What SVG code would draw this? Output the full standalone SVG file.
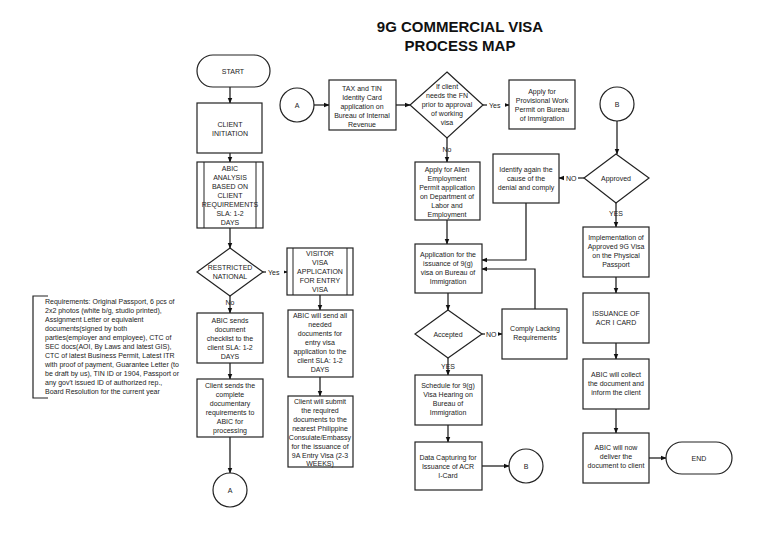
<svg xmlns="http://www.w3.org/2000/svg" width="768" height="543" viewBox="0 0 768 543">
<defs>
<marker id="ah" viewBox="0 0 10 10" refX="9" refY="5" markerWidth="5" markerHeight="5" orient="auto"><path d="M0,1 L10,5 L0,9 z" fill="#111"/></marker>
<style>
.b{fill:#fff;stroke:#222;stroke-width:1.2}
.t{font-family:"Liberation Sans",Arial,sans-serif;font-size:7px;fill:#222;text-anchor:middle}
.l{font-family:"Liberation Sans",Arial,sans-serif;font-size:7px;fill:#222}
.c line,.c path{stroke:#111;stroke-width:1.2;fill:none;marker-end:url(#ah)}
.h{font-family:"Liberation Sans",Arial,sans-serif;font-size:15px;font-weight:bold;fill:#111;text-anchor:middle}
</style>
</defs>
<rect width="768" height="543" fill="#fff"/>
<text class="h" x="460" y="32">9G COMMERCIAL VISA</text>
<text class="h" x="460" y="51">PROCESS MAP</text>

<g class="c">
<line x1="230" y1="87" x2="230" y2="103"/>
<line x1="230" y1="153" x2="230" y2="162"/>
<line x1="230" y1="228" x2="230" y2="248"/>
<line x1="263" y1="272" x2="287" y2="272"/>
<line x1="230" y1="296" x2="230" y2="313"/>
<line x1="230" y1="363" x2="230" y2="379"/>
<line x1="230" y1="437" x2="230" y2="473"/>
<line x1="320" y1="295" x2="320" y2="310"/>
<line x1="320" y1="377" x2="320" y2="396"/>
<line x1="314" y1="105" x2="329" y2="105"/>
<line x1="396" y1="105" x2="410" y2="105"/>
<line x1="483" y1="105" x2="509" y2="105"/>
<line x1="447" y1="138" x2="447" y2="162"/>
<line x1="447" y1="220" x2="447" y2="244"/>
<path d="M526,203 V260 H482"/>
<path d="M535,309 V269 H482"/>
<line x1="448" y1="293" x2="448" y2="310"/>
<line x1="482" y1="334" x2="502" y2="334"/>
<line x1="448" y1="358" x2="448" y2="375"/>
<line x1="448" y1="425" x2="448" y2="442"/>
<line x1="482" y1="466" x2="509" y2="466"/>
<line x1="617" y1="121" x2="617" y2="154"/>
<line x1="584" y1="178" x2="559" y2="178"/>
<line x1="616" y1="203" x2="616" y2="227"/>
<line x1="616" y1="277" x2="616" y2="293"/>
<line x1="616" y1="343" x2="616" y2="359"/>
<line x1="616" y1="409" x2="616" y2="433"/>
<line x1="649" y1="458" x2="666" y2="458"/>
</g>
<g id="labels">
<rect x="266" y="268" width="18" height="8" fill="#fff"/><text class="l" x="268" y="274.5">Yes</text>
<text class="t" x="230" y="305">No</text>
<rect x="487" y="101" width="18" height="8" fill="#fff"/><text class="l" x="489" y="107.5">Yes</text>
<text class="t" x="447" y="152">No</text>
<rect x="564" y="174" width="14" height="8" fill="#fff"/><text class="l" x="566" y="180.5">NO</text>
<rect x="485" y="330" width="13" height="8" fill="#fff"/><text class="l" x="486" y="336.5">NO</text>
<text class="t" x="448" y="369">YES</text>
<text class="t" x="616" y="216">YES</text>
</g>

<g id="start"><rect class="b" x="197" y="55" width="73" height="32" rx="16"/><text class="t" x="233" y="73.5">START</text></g>
<g id="init"><rect class="b" x="197" y="103" width="65" height="50"/><text class="t" x="230" y="127">CLIENT</text><text class="t" x="230" y="136">INITIATION</text></g>
<g id="analysis"><rect class="b" x="197" y="162" width="66" height="66"/><line x1="204" y1="162" x2="204" y2="228" stroke="#222"/><line x1="256" y1="162" x2="256" y2="228" stroke="#222"/>
<text class="t" x="230" y="171">ABIC</text><text class="t" x="230" y="180">ANALYSIS</text><text class="t" x="230" y="189">BASED ON</text><text class="t" x="230" y="198">CLIENT</text><text class="t" x="230" y="207">REQUIREMENTS</text><text class="t" x="230" y="216">SLA: 1-2</text><text class="t" x="230" y="225">DAYS</text></g>
<g id="restricted"><path class="b" d="M230,248 L263,272 L230,296 L197,272 Z"/><text class="t" x="230" y="270">RESTRICTED</text><text class="t" x="230" y="279">NATIONAL</text></g>
<g id="visitor"><rect class="b" x="287" y="248" width="66" height="47"/><line x1="293" y1="248" x2="293" y2="295" stroke="#222"/><line x1="347" y1="248" x2="347" y2="295" stroke="#222"/>
<text class="t" x="320" y="256">VISITOR</text><text class="t" x="320" y="265">VISA</text><text class="t" x="320" y="274">APPLICATION</text><text class="t" x="320" y="283">FOR ENTRY</text><text class="t" x="320" y="292">VISA</text></g>
<g id="abicsends"><rect class="b" x="197" y="313" width="66" height="50"/><text class="t" x="230" y="323">ABIC sends</text><text class="t" x="230" y="332">document</text><text class="t" x="230" y="341">checklist to the</text><text class="t" x="230" y="350">client SLA: 1-2</text><text class="t" x="230" y="359">DAYS</text></g>
<g id="clientsends"><rect class="b" x="197" y="379" width="66" height="58"/><text class="t" x="230" y="388">Client sends the</text><text class="t" x="230" y="397">complete</text><text class="t" x="230" y="406">documentary</text><text class="t" x="230" y="415">requirements to</text><text class="t" x="230" y="424">ABIC for</text><text class="t" x="230" y="433">processing</text></g>
<g id="a1"><circle class="b" cx="230" cy="490" r="17"/><text class="t" x="230" y="492.5">A</text></g>
<g id="abicsendall"><rect class="b" x="288" y="310" width="65" height="67"/><text class="t" x="320" y="318">ABIC will send all</text><text class="t" x="320" y="327">needed</text><text class="t" x="320" y="336">documents for</text><text class="t" x="320" y="345">entry visa</text><text class="t" x="320" y="354">application to the</text><text class="t" x="320" y="363">client SLA: 1-2</text><text class="t" x="320" y="372">DAYS</text></g>
<g id="submit"><rect class="b" x="288" y="396" width="65" height="71"/><text class="t" x="320" y="404">Client will submit</text><text class="t" x="320" y="413">the required</text><text class="t" x="320" y="422">documents to the</text><text class="t" x="320" y="431">nearest Philippine</text><text class="t" x="320" y="440">Consulate/Embassy</text><text class="t" x="320" y="449">for the issuance of</text><text class="t" x="320" y="458">9A Entry Visa (2-3</text><text class="t" x="320" y="466">WEEKS)</text></g>
<g id="req"><path d="M48,296 H33 V398 H48" fill="none" stroke="#222" stroke-width="1.2"/>
<text class="l" x="45" y="304">Requirements: Original Passport, 6 pcs of</text>
<text class="l" x="45" y="313">2x2 photos (white b/g, studio printed),</text>
<text class="l" x="45" y="322">Assignment Letter or equivalent</text>
<text class="l" x="45" y="331">documents(signed by both</text>
<text class="l" x="45" y="340">parties(employer and employee), CTC of</text>
<text class="l" x="45" y="349">SEC docs(AOI, By Laws and latest GIS),</text>
<text class="l" x="45" y="358">CTC of latest Business Permit, Latest ITR</text>
<text class="l" x="45" y="367">with proof of payment, Guarantee Letter (to</text>
<text class="l" x="45" y="376">be draft by us), TIN ID or 1904, Passport or</text>
<text class="l" x="45" y="385">any gov't issued ID of authorized rep.,</text>
<text class="l" x="45" y="394">Board Resolution for the current year</text></g>
<g id="a2"><circle class="b" cx="297" cy="105" r="17"/><text class="t" x="297" y="107.5">A</text></g>
<g id="tax"><rect class="b" x="329" y="80" width="67" height="50"/><text class="t" x="362" y="91">TAX and TIN</text><text class="t" x="362" y="100">Identity Card</text><text class="t" x="362" y="109">application on</text><text class="t" x="362" y="118">Bureau of Internal</text><text class="t" x="362" y="127">Revenue</text></g>
<g id="needfn"><path class="b" d="M447,72 L483,105 L447,138 L410,105 Z"/><text class="t" x="447" y="89">If client</text><text class="t" x="447" y="98">needs the FN</text><text class="t" x="447" y="107">prior to approval</text><text class="t" x="447" y="116">of working</text><text class="t" x="447" y="125">visa</text></g>
<g id="provisional"><rect class="b" x="509" y="80" width="66" height="49"/><text class="t" x="542" y="94">Apply for</text><text class="t" x="542" y="103">Provisional Work</text><text class="t" x="542" y="112">Permit on Bureau</text><text class="t" x="542" y="121">of Immigration</text></g>
<g id="alien"><rect class="b" x="415" y="162" width="65" height="58"/><text class="t" x="447" y="172">Apply for Alien</text><text class="t" x="447" y="181">Employment</text><text class="t" x="447" y="190">Permit application</text><text class="t" x="447" y="199">on Department of</text><text class="t" x="447" y="208">Labor and</text><text class="t" x="447" y="217">Employment</text></g>
<g id="identify"><rect class="b" x="493" y="154" width="66" height="49"/><text class="t" x="526" y="172">Identify again the</text><text class="t" x="526" y="181">cause of the</text><text class="t" x="526" y="190">denial and comply</text></g>
<g id="application"><rect class="b" x="415" y="244" width="67" height="49"/><text class="t" x="448" y="257">Application for the</text><text class="t" x="448" y="266">issuance of 9(g)</text><text class="t" x="448" y="275">visa on Bureau of</text><text class="t" x="448" y="284">Immigration</text></g>
<g id="accepted"><path class="b" d="M448,310 L482,334 L448,358 L415,334 Z"/><text class="t" x="448" y="336.5">Accepted</text></g>
<g id="comply"><rect class="b" x="502" y="309" width="65" height="50"/><text class="t" x="535" y="331">Comply Lacking</text><text class="t" x="535" y="340">Requirements</text></g>
<g id="schedule"><rect class="b" x="415" y="375" width="67" height="50"/><text class="t" x="448" y="388">Schedule for 9(g)</text><text class="t" x="448" y="397">Visa Hearing on</text><text class="t" x="448" y="406">Bureau of</text><text class="t" x="448" y="415">Immigration</text></g>
<g id="data"><rect class="b" x="415" y="442" width="67" height="48"/><text class="t" x="448" y="460">Data Capturing for</text><text class="t" x="448" y="469">Issuance of ACR</text><text class="t" x="448" y="478">I-Card</text></g>
<g id="b1"><circle class="b" cx="526" cy="466" r="17"/><text class="t" x="526" y="468.5">B</text></g>
<g id="b2"><circle class="b" cx="617" cy="104" r="17"/><text class="t" x="617" y="106.5">B</text></g>
<g id="approved"><path class="b" d="M616,154 L649,178 L616,203 L584,178 Z"/><text class="t" x="616" y="180.5">Approved</text></g>
<g id="impl"><rect class="b" x="583" y="227" width="66" height="50"/><text class="t" x="616" y="240">Implementation of</text><text class="t" x="616" y="249">Approved 9G Visa</text><text class="t" x="616" y="258">on the Physical</text><text class="t" x="616" y="267">Passport</text></g>
<g id="issuance"><rect class="b" x="583" y="293" width="66" height="50"/><text class="t" x="616" y="316">ISSUANCE OF</text><text class="t" x="616" y="325">ACR I CARD</text></g>
<g id="collect"><rect class="b" x="583" y="359" width="66" height="50"/><text class="t" x="616" y="377">ABIC will collect</text><text class="t" x="616" y="386">the document and</text><text class="t" x="616" y="395">inform the client</text></g>
<g id="deliver"><rect class="b" x="583" y="433" width="66" height="50"/><text class="t" x="616" y="450">ABIC will now</text><text class="t" x="616" y="459">deliver the</text><text class="t" x="616" y="468">document to client</text></g>
<g id="end"><rect class="b" x="666" y="442" width="66" height="32" rx="16"/><text class="t" x="699" y="460.5">END</text></g>
</svg>
